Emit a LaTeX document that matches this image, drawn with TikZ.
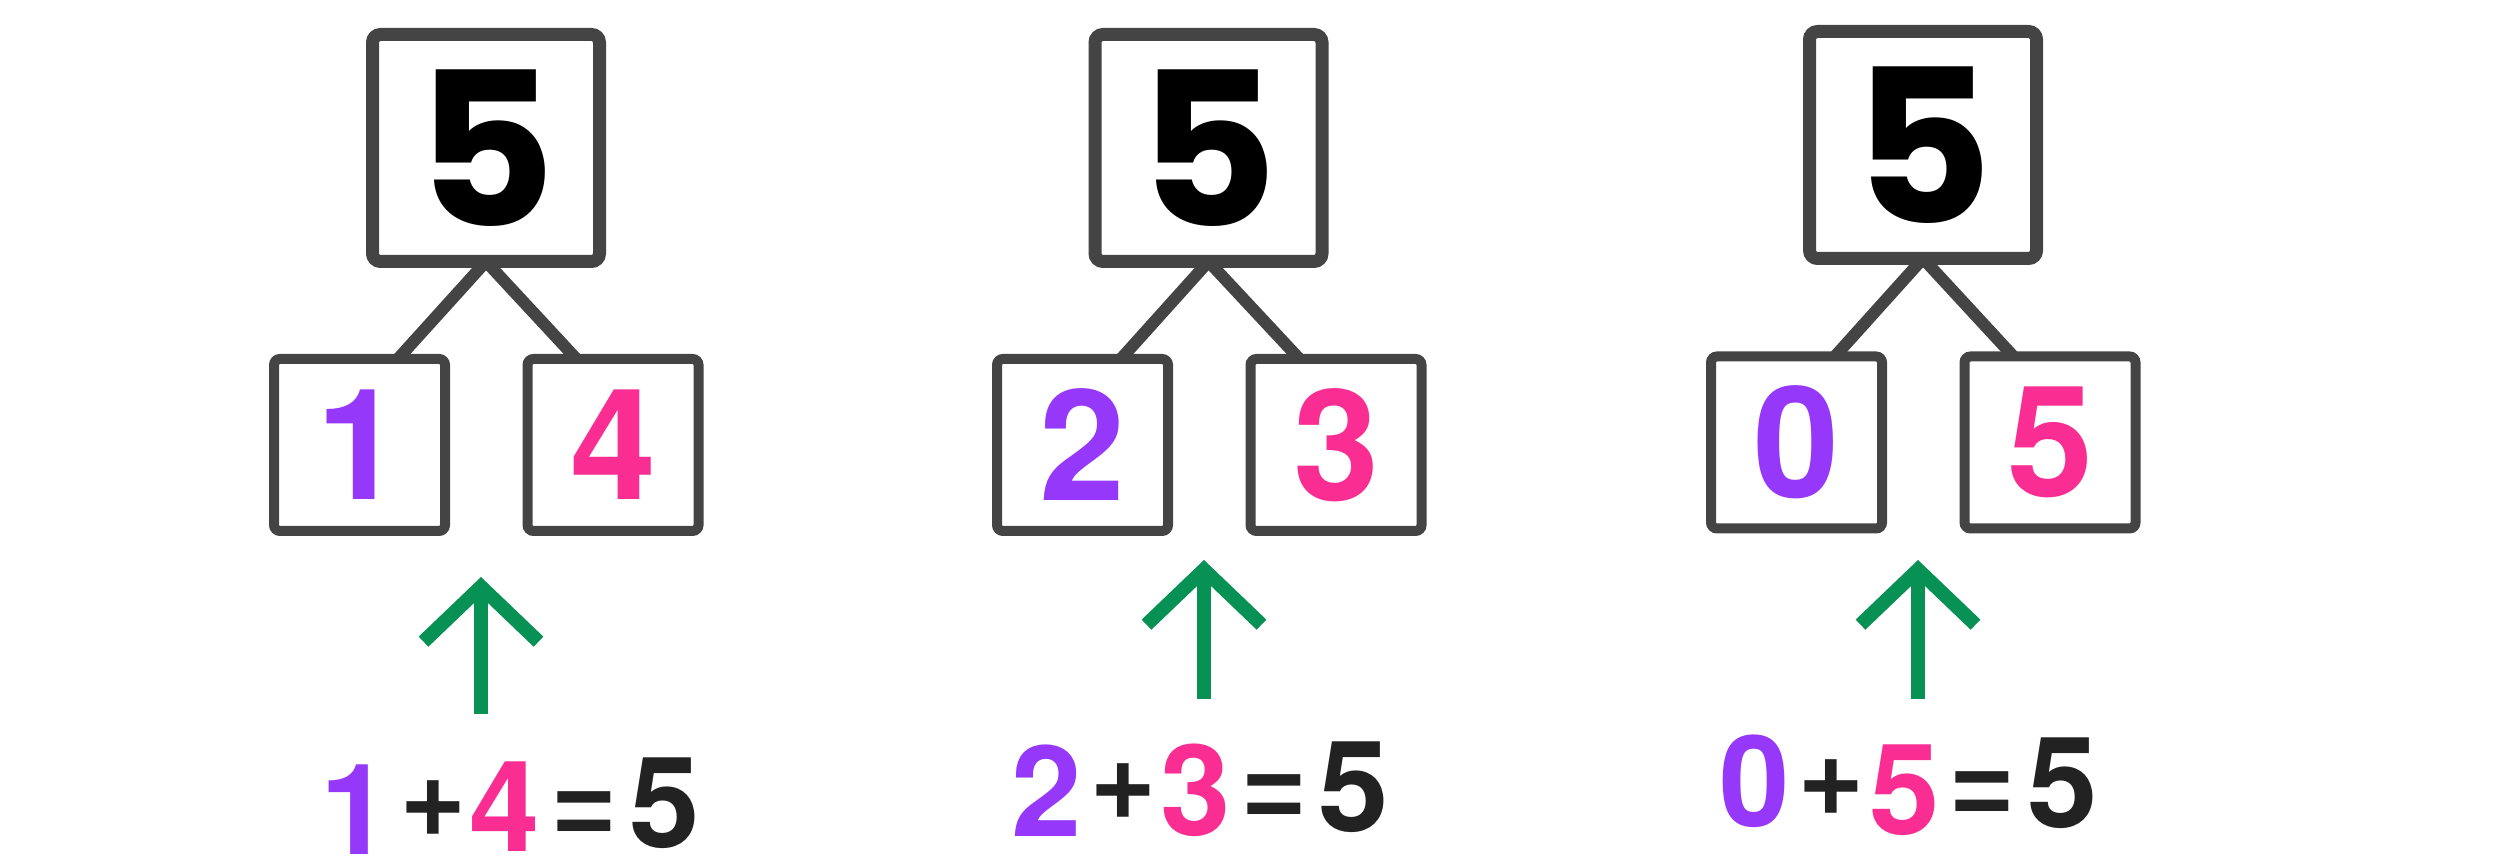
\documentclass[tikz,border=0pt]{standalone}
\usepackage{fontspec}
\usepackage{tikz}
\usetikzlibrary{arrows.meta}
\newfontfamily\digitfont{TeX Gyre Heros}
\newfontfamily\opfont{Liberation Sans}
\newfontfamily\topfont{Poppins}
\definecolor{boxgray}{RGB}{68,68,68}
\definecolor{partone}{RGB}{150,56,250}
\definecolor{parttwo}{RGB}{250,46,146}
\definecolor{arrowgreen}{RGB}{8,145,84}
\definecolor{sumblack}{RGB}{34,34,34}

\begin{document}
\begin{tikzpicture}[
  topbox/.style={draw=boxgray, line width=0.13cm, rounded corners=0.08cm, outer sep=0pt,
    minimum width=2.27cm, minimum height=2.27cm, inner sep=0pt,
    font=\topfont\bfseries\fontsize{61}{61}\selectfont},
  kidbox/.style={draw=boxgray, line width=0.10cm, rounded corners=0.06cm, outer sep=0pt,
    minimum width=1.71cm, minimum height=1.72cm, inner sep=0pt,
    font=\digitfont\bfseries\fontsize{44}{44}\selectfont},
  branch/.style={draw=boxgray, line width=0.12cm},
  uparrow/.style={draw=arrowgreen, line width=0.14cm,
    -{Straight Barb[sharp,length=0.55cm,width=1.15cm]}},
  sum/.style={inner sep=0pt, font=\digitfont\bfseries\fontsize{36}{36}\selectfont},
  sumop/.style={inner sep=0pt, text=sumblack, font=\opfont\bfseries\fontsize{30}{30}\selectfont}
]
\useasboundingbox (0,0) rectangle (25,8.58);
% bonds
\node[topbox] (t1) at (4.86,7.10) {5};
\node[kidbox, text=partone] (l1) at (3.595,4.13) {1};
\node[kidbox, text=parttwo] (r1) at (6.13,4.13) {4};
\node[topbox] (t2) at (12.085,7.10) {5};
\node[kidbox, text=partone] (l2) at (10.825,4.13) {2};
\node[kidbox, text=parttwo] (r2) at (13.36,4.13) {3};
\node[topbox] (t3) at (19.23,7.13) {5};
\node[kidbox, text=partone] (l3) at (17.965,4.155) {0};
\node[kidbox, text=parttwo] (r3) at (20.50,4.155) {5};
\draw[branch] (t1.south) -- (l1.66);
\draw[branch] (t1.south) -- (r1.113);
\draw[branch] (t2.south) -- (l2.66);
\draw[branch] (t2.south) -- (r2.113);
\draw[branch] (t3.south) -- (l3.66);
\draw[branch] (t3.south) -- (r3.113);
%
\coordinate (a1s) at (4.81,1.44);
\coordinate (a1e) at (4.81,2.81);
\coordinate (a2s) at (12.04,1.59);
\coordinate (a2e) at (12.04,2.98);
\coordinate (a3s) at (19.18,1.59);
\coordinate (a3e) at (19.18,2.98);
\draw[uparrow] (a1s) -- (a1e);
\draw[uparrow] (a2s) -- (a2e);
\draw[uparrow] (a3s) -- (a3e);
% sums, one glyph per node
\node[sum, text=partone] (s1a) at (3.56,0.48) {1};
\node[sumop] (s1b) at (4.33,0.46) {+};
\node[sum, text=parttwo] (s1c) at (5.05,0.51) {4};
\node[sumop] (s1d) at (5.84,0.39) {=};
\node[sum, text=sumblack] (s1e) at (6.645,0.55) {5};
\node[sum, text=partone] (s2a) at (10.465,0.67) {2};
\node[sumop] (s2b) at (11.23,0.636) {+};
\node[sum, text=parttwo] (s2c) at (11.955,0.675) {3};
\node[sumop] (s2d) at (12.745,0.563) {=};
\node[sum, text=sumblack] (s2e) at (13.54,0.71) {5};
\node[sum, text=partone] (s3a) at (17.545,0.765) {0};
\node[sumop] (s3b) at (18.31,0.676) {+};
\node[sum, text=parttwo] (s3c) at (19.05,0.675) {5};
\node[sumop] (s3d) at (19.82,0.593) {=};
\node[sum, text=sumblack] (s3e) at (20.625,0.745) {5};
\end{tikzpicture}
\end{document}
